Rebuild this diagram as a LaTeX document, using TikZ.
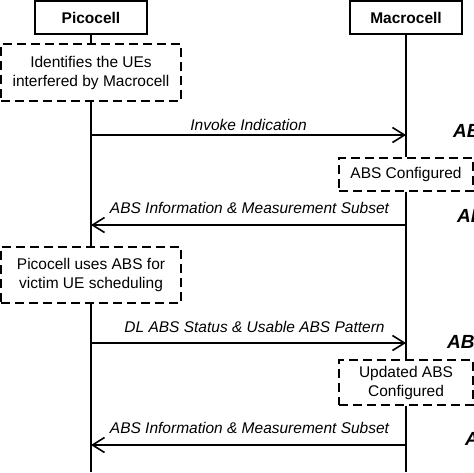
\documentclass[tikz,border=0pt]{standalone}
\usepackage{fontspec}
\setmainfont{Liberation Sans}
\usepackage{tikz}
\usetikzlibrary{arrows.meta}
\newcommand{\msgfont}{\fontsize{15.5}{19}\selectfont}
\tikzstyle{entity}=[rectangle,draw,line width=1.6pt,fill=white,minimum width=112pt,minimum height=33pt,inner sep=0pt,font=\msgfont\bfseries]
\tikzstyle{action}=[rectangle,draw,line width=1.6pt,dash pattern=on 9pt off 5pt,fill=white,align=center,inner sep=0pt,font=\msgfont]
\tikzstyle{lifeline} = [draw,line width=1.6pt]
\tikzstyle{msg} = [draw,line width=1.6pt,-{Straight Barb[length=12pt,width=15pt]}]
\tikzstyle{msglabel} = [anchor=base,inner sep=0pt,font=\msgfont\itshape]
\tikzstyle{phase} = [anchor=base west,inner sep=0pt,font=\fontsize{19}{22}\selectfont\bfseries\itshape]

\begin{document}
\begin{tikzpicture}[x=1pt,y=-1pt]

  \useasboundingbox (0,0) rectangle (474,472);
  \clip (0,0) rectangle (474,472);

  \def\pX{91};
  \def\mX{406};

  \node[entity] (pico) at (\pX,17.5) {Picocell};
  \node[entity] (macro) at (\mX,17.5) {Macrocell};

  \foreach \x/\y/\w/\h/\name/\label in {\pX/72.5/180/57/ident/{Identifies the UEs\\interfered by Macrocell},
                                        \mX/174.5/134/33/absconf/{ABS Configured},
                                        \pX/275/180/56/uses/{Picocell uses ABS for\\victim UE scheduling},
                                        \mX/382.5/134/45/updated/{Updated ABS\\Configured}}
          \node[action,minimum width=\w pt,minimum height=\h pt] (\name) at (\x,\y) {\label};

  \coordinate (pend) at (\pX,472);
  \coordinate (mend) at (\mX,472);

  \foreach \source/\dest in {pico/ident, ident/uses, uses/pend, macro/absconf, absconf/updated, updated/mend}
         \path[lifeline] (\source) -- (\dest);

  \foreach \y/\name in {135/1, 225/2, 343/3, 445/4} {
          \coordinate (p\name) at (\pX,\y);
          \coordinate (m\name) at (\mX,\y);
  }

  \foreach \source/\dest/\lift/\shift/\label in {p1/m1/5/0/{Invoke Indication},
                                                 m2/p2/12/1/{ABS Information \& Measurement Subset},
                                                 p3/m3/11/6/{DL ABS Status \& Usable ABS Pattern},
                                                 m4/p4/12/1/{ABS Information \& Measurement Subset}}
         \path[msg] (\source) -- node[msglabel,yshift=\lift pt,xshift=\shift pt] {\label} (\dest);

%phases
  \foreach \x/\y/\name in {453/137/ph1, 457/222/ph2, 447/348/ph3, 465/445/ph4}
          \node[phase] (\name) at (\x,\y) {ABS};

\end{tikzpicture}
\end{document}
